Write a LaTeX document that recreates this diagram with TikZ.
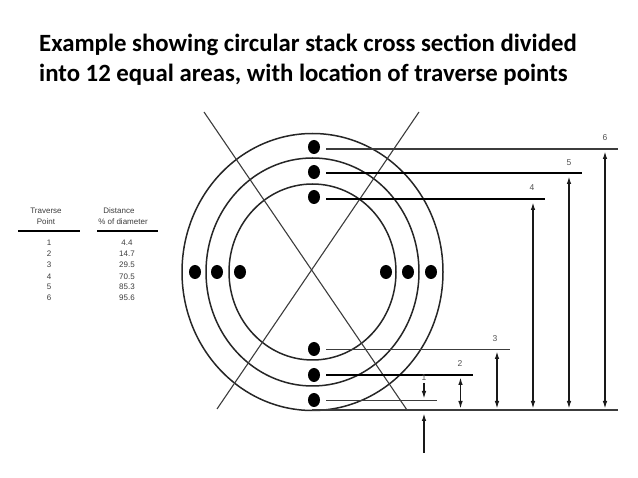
\documentclass[tikz,border=0pt]{standalone}
\usepackage{fontspec}
\setmainfont{Liberation Sans}
\newfontfamily\titlefont{Carlito}
\usepackage{xcolor}
\usepackage{tikz}
\usetikzlibrary{arrows.meta,shapes.geometric}
\definecolor{dgray}{RGB}{60, 60, 60}
\definecolor{lbl}{RGB}{80, 80, 80}
\tikzset{
	dot/.style = {ellipse, fill = black, inner sep = 0pt, minimum width = 12pt, minimum height = 14pt, outer sep = 6pt},
	ring/.style = {line width = 1.5pt, black!85},
	cross/.style = {line width = 1.1pt, dgray},
	thinlead/.style = {line width = 1.1pt, dgray},
	thicklead/.style = {line width = 1.7pt, black},
	dim/.style = {line width = 1.5pt, black!90, {Latex[length=8pt,width=4.5pt]}-{Latex[length=8pt,width=4.5pt]}},
	uparrow/.style = {line width = 1.5pt, black!90, -{Latex[length=8pt,width=4.5pt]}},
	tabtext/.style = {font = \fontsize{8}{8}\selectfont, text = dgray, inner sep = 0pt},
	numtext/.style = {font = \fontsize{8.5}{8}\selectfont, text = lbl, inner sep = 0pt},
	tabrule/.style = {line width = 1.4pt, black},
	titletext/.style = {font = \titlefont\bfseries\fontsize{24.8}{30}\selectfont, text = black, inner sep = 0pt, anchor = base west}
}

\begin{document}
\begin{tikzpicture}[x = 1pt, y = -1pt]
		\useasboundingbox (0,0) rectangle (638,478);
		\node (t1) at (39,52) [titletext] {Example showing circular stack cross section divided};
		\node (t2) at (39,82) [titletext] {into 12 equal areas, with location of traverse points};

		\node (h1) at (46,211) [tabtext] {Traverse};
		\node (h2) at (46,222) [tabtext] {Point};
		\node (h3) at (119,211) [tabtext] {Distance};
		\node (h4) at (123,222) [tabtext] {\% of diameter};
		\coordinate (r1a) at (18,231);
		\coordinate (r1b) at (80,231);
		\coordinate (r2a) at (97,231);
		\coordinate (r2b) at (158,231);
		\draw[tabrule] (r1a) -- (r1b);
		\draw[tabrule] (r2a) -- (r2b);
		\node (n1) at (49,243) [tabtext] {1};
		\node (n2) at (49,254) [tabtext] {2};
		\node (n3) at (49,265) [tabtext] {3};
		\node (n4) at (49,277) [tabtext] {4};
		\node (n5) at (49,287) [tabtext] {5};
		\node (n6) at (49,298) [tabtext] {6};
		\node (v1) at (127,243) [tabtext] {4.4};
		\node (v2) at (127,254) [tabtext] {14.7};
		\node (v3) at (127,265) [tabtext] {29.5};
		\node (v4) at (127,277) [tabtext] {70.5};
		\node (v5) at (127,287) [tabtext] {85.3};
		\node (v6) at (127,298) [tabtext] {95.6};

		\coordinate (o) at (312.5,272);
		\draw[ring] (o) ellipse [x radius = 130.5pt, y radius = 138.5pt];
		\draw[ring] (o) ellipse [x radius = 106.5pt, y radius = 114pt];
		\draw[ring] (o) ellipse [x radius = 83.5pt, y radius = 88pt];
		\coordinate (c1) at (204,112);
		\coordinate (c2) at (407,410);
		\coordinate (c3) at (419,112);
		\coordinate (c4) at (217,409);
		\draw[cross] (c1) -- (c2);
		\draw[cross] (c3) -- (c4);

		\node (d1) at (314,400) [dot] {};
		\node (d2) at (314,375) [dot] {};
		\node (d3) at (314,349) [dot] {};
		\node (d4) at (314,197) [dot] {};
		\node (d5) at (314,172) [dot] {};
		\node (d6) at (314,147) [dot] {};
		\node (d7) at (195,272) [dot] {};
		\node (d8) at (217,272) [dot] {};
		\node (d9) at (240,272) [dot] {};
		\node (d10) at (386,272) [dot] {};
		\node (d11) at (408,272) [dot] {};
		\node (d12) at (431,272) [dot] {};

		\coordinate (e1) at (437,400.5);
		\coordinate (e2) at (473,375);
		\coordinate (e3) at (510,349.5);
		\coordinate (e4) at (545,199);
		\coordinate (e5) at (582,173);
		\coordinate (e6) at (618,149);
		\draw[thinlead] (d1.east |- e1) -- (e1);
		\draw[thicklead] (d2.east |- e2) -- (e2);
		\draw[thinlead] (d3.east |- e3) -- (e3);
		\draw[thicklead] (d4.east |- e4) -- (e4);
		\draw[thicklead] (d5.east |- e5) -- (e5);
		\draw[thinlead] (d6.east |- e6) -- (e6);

		\coordinate (b0) at (312,410);
		\coordinate (b7) at (618,410);
		\draw[thinlead] (b0) -- (b7);

		\coordinate (a1) at (424,383);
		\coordinate (z1) at (424,399);
		\coordinate (a2) at (460.5,377);
		\coordinate (z2) at (460.5,409);
		\coordinate (a3) at (497,351);
		\coordinate (z3) at (497,409);
		\coordinate (a4) at (533,202);
		\coordinate (z4) at (533,409);
		\coordinate (a5) at (569,176);
		\coordinate (z5) at (569,409);
		\coordinate (a6) at (605,151);
		\coordinate (z6) at (605,409);
		\coordinate (a7) at (424,453);
		\coordinate (z7) at (424,413);
		\draw[uparrow] (a1) -- (z1);
		\draw[dim] (a2) -- (z2);
		\draw[dim] (a3) -- (z3);
		\draw[dim] (a4) -- (z4);
		\draw[dim] (a5) -- (z5);
		\draw[dim] (a6) -- (z6);
		\draw[uparrow] (a7) -- (z7);

		\node (l1) at (424,378) [numtext] {1};
		\node (l2) at (460,364) [numtext] {2};
		\node (l3) at (495,339) [numtext] {3};
		\node (l4) at (532,188) [numtext] {4};
		\node (l5) at (569,163) [numtext] {5};
		\node (l6) at (605,138) [numtext] {6};
		\end{tikzpicture}
\end{document}
